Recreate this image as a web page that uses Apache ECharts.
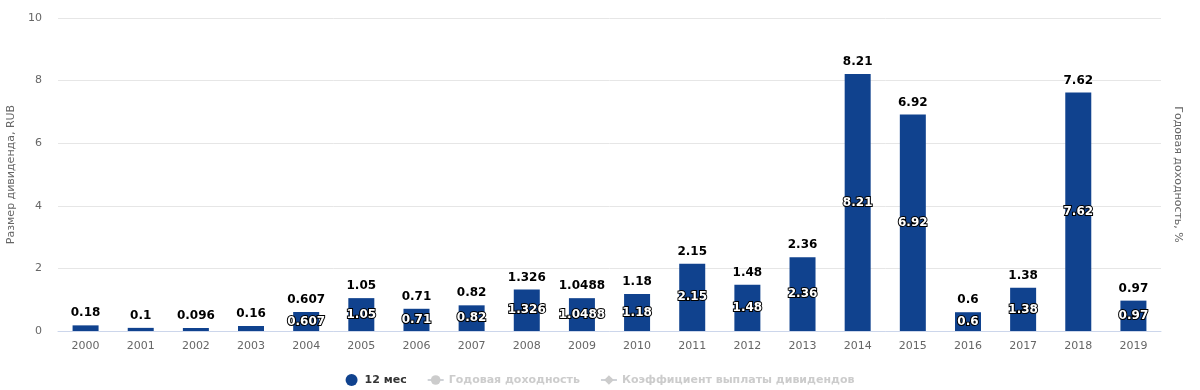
<!DOCTYPE html>
<html>
<head>
<meta charset="utf-8">
<script src="https://cdn.jsdelivr.net/npm/echarts@6/dist/echarts.min.js"></script>
<style>html,body{margin:0;padding:0;background:#fff}#c{width:1200px;height:390px}</style>
</head>
<body>
<div id="c"></div>
<script>
const years = ['2000','2001','2002','2003','2004','2005','2006','2007','2008','2009','2010','2011','2012','2013','2014','2015','2016','2017','2018','2019'];
const dividends = [0.18,0.1,0.096,0.16,0.607,1.05,0.71,0.82,1.326,1.0488,1.18,2.15,1.48,2.36,8.21,6.92,0.6,1.38,7.62,0.97];
const yieldPct = [];
const payoutRatio = [];
const yTicks = {min:0,max:10,interval:2};

const FONT = 'DejaVu Sans';
const chart = echarts.init(document.getElementById('c'), null, {renderer:'canvas'});
chart.setOption({
  animation:false,
  textStyle:{fontFamily:FONT},
  grid:{left:58,right:39,top:18,bottom:59,containLabel:false,outerBoundsMode:'none'},
  legend:{
    data:[
      {name:'12 мес', icon:'circle'},
      {name:'Годовая доходность'},
      {name:'Коэффициент выплаты дивидендов'}
    ],
    selected:{'Годовая доходность':false,'Коэффициент выплаты дивидендов':false},
    top:369, left:'center',
    itemWidth:16, itemHeight:12, itemGap:20,
    inactiveColor:'#cccccc',
    textStyle:{fontFamily:FONT,fontSize:11,fontWeight:'bold',color:'#333'}
  },
  xAxis:{
    type:'category', data:years,
    axisLine:{lineStyle:{color:'#ccd6eb'}},
    axisTick:{show:false},
    axisLabel:{color:'#666',fontSize:11,fontFamily:FONT,margin:10}
  },
  yAxis:[{
    type:'value', min:yTicks.min, max:yTicks.max, interval:yTicks.interval,
    name:'Размер дивиденда, RUB', nameLocation:'middle', nameGap:38,
    nameTextStyle:{color:'#666',fontSize:11,fontFamily:FONT},
    axisLabel:{color:'#666',fontSize:11,fontFamily:FONT,margin:16},
    splitLine:{lineStyle:{color:'#e6e6e6'}},
    axisLine:{show:false}, axisTick:{show:false}
  },{
    type:'value', min:0, max:10, interval:2,
    name:'Годовая доходность, %', nameLocation:'middle', nameGap:11, nameRotate:-90,
    nameTextStyle:{color:'#666',fontSize:11,fontFamily:FONT},
    axisLabel:{show:false}, splitLine:{show:false}, axisLine:{show:false}, axisTick:{show:false}
  }],
  series:[
    {
      name:'12 мес', type:'bar', data:dividends, barWidth:26,
      itemStyle:{color:'#10428e'},
      label:{show:true,position:'top',distance:6,color:'#000',fontWeight:'bold',fontSize:12,fontFamily:FONT,
        textBorderColor:'#fff',textBorderWidth:2}
    },
    {
      name:'inside', type:'bar', data:dividends, barWidth:26, barGap:'-100%',
      itemStyle:{color:'rgba(0,0,0,0)'}, silent:true,
      label:{show:true,position:'inside',color:'#fff',fontWeight:'bold',fontSize:12,fontFamily:FONT,
        textBorderColor:'#000',textBorderWidth:2,
        formatter:p=>p.value>=0.5?String(p.value):''}
    },
    {name:'Годовая доходность', type:'line', yAxisIndex:1, data:yieldPct, symbol:'circle', itemStyle:{color:'#8bbc21'}},
    {name:'Коэффициент выплаты дивидендов', type:'line', yAxisIndex:1, data:payoutRatio, symbol:'diamond', itemStyle:{color:'#910000'}}
  ]
});
</script>
</body>
</html>
